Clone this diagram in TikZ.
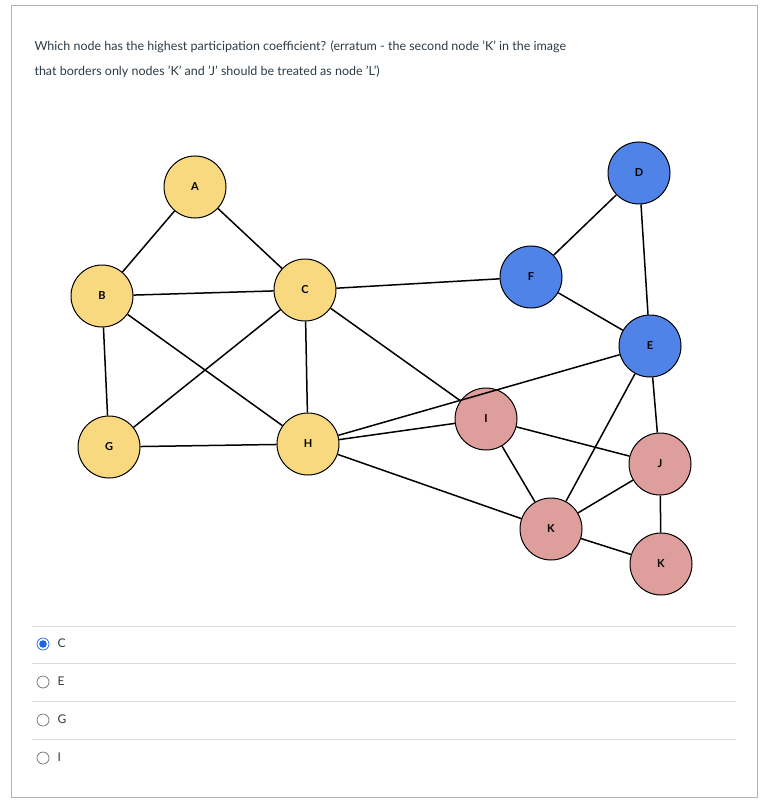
\documentclass[tikz,border=0pt]{standalone}
\usepackage{fontspec}
\setmainfont{Lato}
\definecolor{frm}{RGB}{180,180,180}
\definecolor{yelc}{RGB}{249,217,127}
\definecolor{bluc}{RGB}{80,131,232}
\definecolor{pnkc}{RGB}{222,158,156}
\definecolor{txt}{RGB}{45,59,69}
\definecolor{sepc}{RGB}{220,220,220}
\definecolor{radc}{RGB}{110,110,110}
\definecolor{selc}{RGB}{30,100,230}
\begin{document}
\begin{tikzpicture}[x=1pt,y=-1pt,
  nd/.style={circle,draw=black,line width=1pt,minimum size=62pt,inner sep=0pt,font=\fontsize{11}{13}\selectfont\bfseries},
  yel/.style={nd,fill=yelc},
  blu/.style={nd,fill=bluc},
  pnk/.style={nd,fill=pnkc},
  ed/.style={line width=1.5pt,black},
  sep/.style={draw=sepc,line width=0.8pt},
  opt/.style={anchor=west,font=\fontsize{12}{14}\selectfont,text=txt},
  radio/.style={circle,draw=radc,line width=0.7pt,minimum size=12pt,inner sep=0pt}]
\useasboundingbox (0,0) rectangle (780,802);
\draw[frm,line width=0.8pt] (11,5) rectangle (757,797);
\node[anchor=west,font=\fontsize{12.5}{15}\selectfont,text=txt] (q1) at (31,47) {Which node has the highest participation coefficient? (erratum - the second node 'K' in the image};
\node[anchor=west,font=\fontsize{12.5}{15}\selectfont,text=txt] (q2) at (31,72) {that borders only nodes 'K' and 'J' should be treated as node 'L')};
\node[yel] (A) at (195,187) {A};
\node[yel] (B) at (102,296) {B};
\node[yel] (C) at (305,290) {C};
\node[blu] (D) at (639,173) {D};
\node[blu] (F) at (531,277) {F};
\node[blu] (E) at (650,346) {E};
\node[yel] (G) at (109,447) {G};
\node[yel] (H) at (308,444) {H};
\node[pnk] (I) at (486,419) {I};
\node[pnk] (J) at (660,464) {J};
\node[pnk] (K) at (551,529) {K};
\node[pnk] (L) at (661,564) {K};
\foreach \a/\b in {A/B,A/C,B/C,B/G,B/H,C/G,C/H,C/F,C/I,F/D,F/E,D/E,E/H,E/J,E/K,G/H,H/I,H/K,I/J,I/K,K/J,K/L,J/L}
  \draw[ed] (\a) -- (\b);
\foreach \y in {626,663,701,739} \draw[sep] (32,\y) -- (736,\y);
\node[radio,draw=selc] (r1) at (43,644) {};
\fill[selc] (r1.center) circle (3.8pt);
\node[radio] (r2) at (43,682) {};
\node[radio] (r3) at (43,720) {};
\node[radio] (r4) at (43,758) {};
\node[opt] (o1) at (54,643) {C};
\node[opt] (o2) at (54,681) {E};
\node[opt] (o3) at (54,719) {G};
\node[opt] (o4) at (54,757) {I};
\end{tikzpicture}
\end{document}
